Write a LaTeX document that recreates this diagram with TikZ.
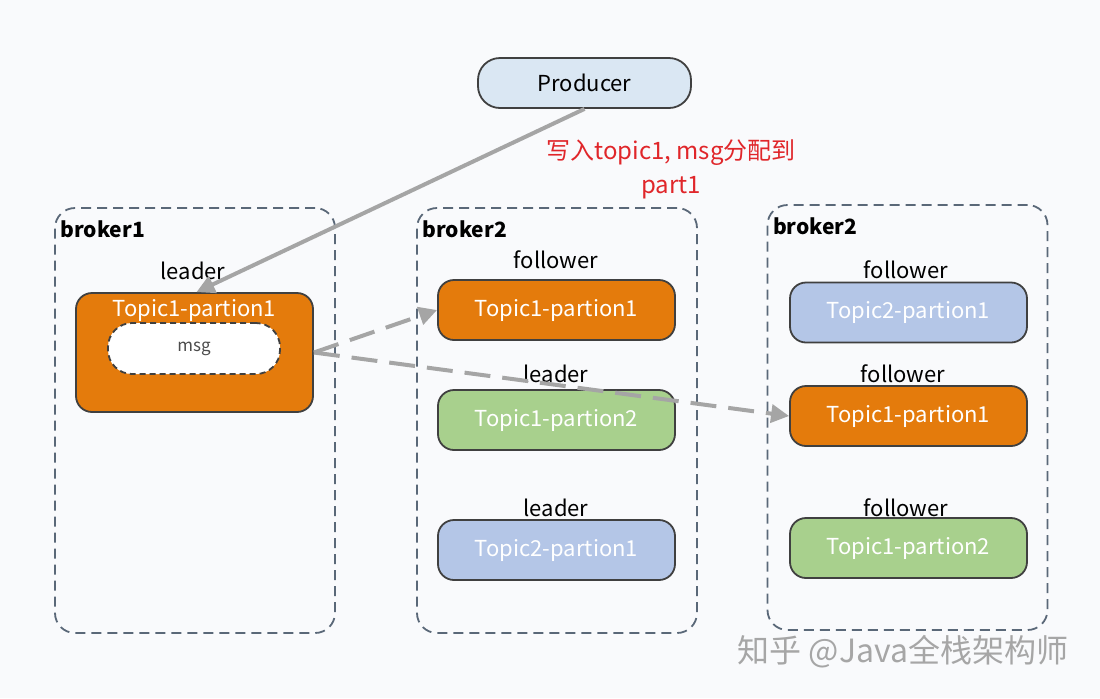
\documentclass[tikz,border=0pt]{standalone}
\usepackage{fontspec}
\setmainfont{Noto Sans CJK SC}
\usetikzlibrary{arrows.meta}

\definecolor{bgwhite}{HTML}{F9FAFC}
\definecolor{prodblue}{HTML}{DAE7F3}
\definecolor{torange}{HTML}{E47B0C}
\definecolor{tgreen}{HTML}{A8D08D}
\definecolor{tblue}{HTML}{B4C6E7}
\definecolor{boxgray}{HTML}{5A6878}
\definecolor{arrgray}{HTML}{A5A5A5}
\definecolor{msgred}{HTML}{E0262A}

\begin{document}
\begin{tikzpicture}[x=0.5pt, y=-0.5pt,
  broker/.style={draw=boxgray, dashed, dash pattern=on 5pt off 3pt, line width=0.9pt, rounded corners=10pt, minimum width=140pt, minimum height=212.5pt},
  part/.style={draw=black!75, line width=0.9pt, rounded corners=8pt, minimum width=118.5pt, minimum height=30pt, text=white, font=\fontsize{11}{13}\selectfont},
  role/.style={font=\fontsize{11}{13}\selectfont},
  blabel/.style={anchor=north west, inner sep=1pt, font=\fontsize{10.5}{12}\selectfont\bfseries},
  arr/.style={draw=arrgray, line width=2pt, -{Triangle[length=9pt, width=9pt]}},
]

   % canvas
   \useasboundingbox[fill=bgwhite] (0,0) rectangle (1100,698);

   % producer and note
   \node[draw=black!75, fill=prodblue, line width=0.9pt, rounded corners=11pt, minimum width=106.5pt, minimum height=25pt, font=\fontsize{11}{13}\selectfont] (prod) at (584.5,83) {Producer};
   \node[text=msgred, align=center, font=\fontsize{12}{17}\selectfont] (note) at (671,169) {写入topic1, msg分配到\\part1};

   % brokers
   \node[broker] (b1) at (195,420.5) {};
   \node[broker] (b2) at (557,420.5) {};
   \node[broker] (b3) at (907.5,417.5) {};
   \node[blabel] at ([xshift=2pt,yshift=-5.5pt]b1.north west) {broker1};
   \node[blabel] at ([xshift=2pt,yshift=-5.5pt]b2.north west) {broker2};
   \node[blabel] at ([xshift=2pt,yshift=-5.5pt]b3.north west) {broker2};

   % broker1
   \node[role] (r1) at (193,271) {leader};
   \node[part, fill=torange, minimum height=59.5pt] (a1) at (194.5,352.5) {};
   \node[text=white, font=\fontsize{11}{13}\selectfont] (a1t) at (194.5,310) {Topic1-partion1};
   \node[draw=black!75, fill=white, dashed, dash pattern=on 3pt off 2pt, line width=0.9pt, rounded corners=12pt, minimum width=86pt, minimum height=25.5pt, font=\fontsize{8.5}{10}\selectfont, text=black!70] (msg) at (194,348.5) {msg};

   % broker2 (middle)
   \node[role] (r2) at (556,260) {follower};
   \node[part, fill=torange] (a2) at (556.5,310) {Topic1-partion1};
   \node[role] (r3) at (556,374) {leader};
   \node[part, fill=tgreen] (c2) at (556.5,420) {Topic1-partion2};
   \node[role] (r4) at (556,508) {leader};
   \node[part, fill=tblue] (d2) at (556.5,550) {Topic2-partion1};

   % broker2 (right)
   \node[role] (r5) at (906,270) {follower};
   \node[part, fill=tblue] (d3) at (908.5,312.5) {Topic2-partion1};
   \node[role] (r6) at (903,374) {follower};
   \node[part, fill=torange] (a3) at (908.5,416) {Topic1-partion1};
   \node[role] (r7) at (906,508) {follower};
   \node[part, fill=tgreen] (c3) at (908.5,548) {Topic1-partion2};

   % write and replication
   \draw[arr] (prod.south) -- ([xshift=1pt]a1.north);
   \draw[arr, dashed, dash pattern=on 13pt off 6pt] (a1.east) -- (a2.west);
   \draw[arr, dashed, dash pattern=on 13pt off 6pt] (a1.east) -- (a3.west);

   % watermark
   \node[text=black!35, font=\fontsize{16}{18}\selectfont] (wm) at (903,652) {知乎 @Java全栈架构师};

\end{tikzpicture}
\end{document}
